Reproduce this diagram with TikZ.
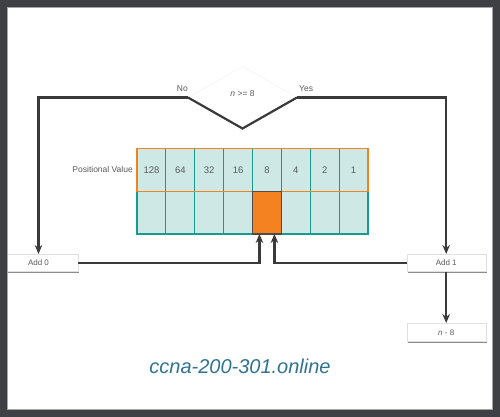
\documentclass[tikz,border=0pt]{standalone}
\usepackage{fontspec}
\setmainfont{Liberation Sans}
\usetikzlibrary{positioning,shapes.geometric,arrows.meta,shadows}
\definecolor{framegray}{HTML}{3E4043}
\definecolor{linegray}{HTML}{3A3A3A}
\definecolor{txtgray}{HTML}{5A5A5A}
\definecolor{cellfill}{HTML}{CDE8E5}
\definecolor{cellteal}{HTML}{199A8E}
\definecolor{bitorange}{HTML}{F58220}
\definecolor{markblue}{HTML}{2F7491}
\tikzset{
  cell/.style={rectangle, draw=cellteal, line width=1.2pt, fill=cellfill,
    minimum width=28.875pt, minimum height=42.75pt, inner sep=0pt, outer sep=0pt,
    font=\fontsize{9.5}{11}\selectfont, text=txtgray},
  decision/.style={diamond, draw=black!5, fill=white, minimum width=109pt,
    minimum height=62pt, inner sep=0pt, outer sep=0pt},
  stepbox/.style={rectangle, draw=black!12, fill=white, minimum width=79pt,
    minimum height=17.5pt, inner sep=0pt, outer sep=0pt,
    font=\fontsize{8}{10}\selectfont, text=txtgray,
    drop shadow={shadow xshift=1.3pt, shadow yshift=-1.3pt, fill=black!45, opacity=1}},
  flow/.style={draw=linegray, line width=2.2pt, -{Stealth[length=9pt,width=7.5pt]}},
  edge/.style={draw=linegray, line width=2.2pt, line join=miter},
  lbl/.style={inner sep=0pt, font=\fontsize{8.5}{10}\selectfont, text=txtgray},
}
\begin{document}
\begin{tikzpicture}[x=1pt, y=-1pt] % {{{
\useasboundingbox (0,0) rectangle (500,417);
\fill[white] (0,0) rectangle (500,417);
% decision {{{
\node[decision] (test) at (242.5,97.5) {};
\draw[edge] (test.west) -- (test.south) -- (test.east);
\node[lbl] (cond) at ([yshift=4pt]test.center) {\textit{n} >= 8};
\node[lbl, above left=6pt and 0pt of test.west] (no) {No};
\node[lbl, above right=6pt and 2pt of test.east] (yes) {Yes};
% }}}
% positional values {{{
\foreach \v [count=\i] in {128,64,32,16,8,4,2,1} {
  \node[cell] (pv\i) at (122.56+28.875*\i,169.9) {\v};
  \node[cell] (bit\i) at (122.56+28.875*\i,212.6) {};
}
\draw[cellteal, line width=1.2pt] (bit1.north west) rectangle (bit8.south east);
\draw[bitorange, line width=1.2pt] (pv1.north west) rectangle (pv8.south east);
\node[cell, fill=bitorange, draw=black!70] (hit) at (bit5.center) {};
\node[lbl, left=4pt of pv1] (pvlabel) {Positional Value};
% }}}
% steps {{{
\node[stepbox] (add0) at (38.5,262.75) {Add 0};
\node[stepbox] (add1) at (446.2,262.75) {Add 1};
\node[stepbox, minimum height=18.5pt] (minus) at (446.2,332.3) {\textit{n} - 8};
% }}}
\draw[flow] (test.west) -| (add0.north);
\draw[flow] (test.east) -| (add1.north);
\draw[flow] (add0.east) -| ([xshift=-7.5pt]hit.south);
\draw[flow] (add1.west) -| ([xshift=7.5pt]hit.south);
\draw[flow] (add1.south) -- (minus.north);
\node[anchor=base, font=\fontsize{20}{24}\selectfont\itshape, text=markblue] (mark) at (240,373) {ccna-200-301.online};
% frame
\fill[framegray, even odd rule] (0,0) rectangle (500,417) (7.5,7) rectangle (492.5,409.5);
\draw[black!35, line width=0.6pt] (7.5,7) rectangle (492.5,409.5);
\end{tikzpicture} % }}}
\end{document}
